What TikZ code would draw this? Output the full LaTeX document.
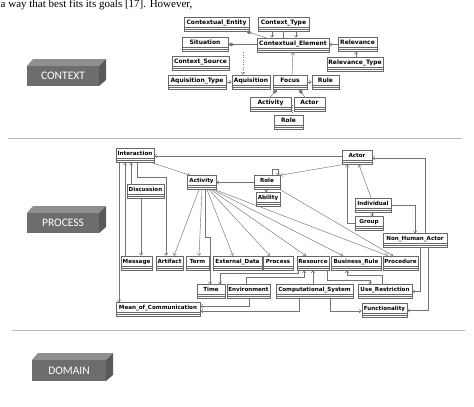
\documentclass[tikz,border=0pt]{standalone}
\usepackage{fontspec}
\setmainfont{Liberation Serif}
\setsansfont{DejaVu Sans}
\newfontfamily\blockfont{Carlito}
\usetikzlibrary{arrows.meta}
\definecolor{boxc}{HTML}{686868}
\definecolor{linec}{HTML}{747474}
\definecolor{blkfront}{HTML}{6C6D6F}
\definecolor{blktop}{HTML}{8E8F91}
\definecolor{blkside}{HTML}{58595B}
\newcommand{\myblock}[6]{%
  \fill[blktop] (#2,#3) -- (#2+6,#3-7) -- (#4+7,#3-7) -- (#4,#3) -- cycle;
  \fill[blkside] (#4,#3) -- (#4+7,#3-7) -- (#4+7,#5-6) -- (#4,#5) -- cycle;
  \node[blockface, minimum width=#4-#2, minimum height=#5-#3] (#1) at ({(#2+#4)/2},{(#3+#5)/2}) {#6};
}
\begin{document}
\begin{tikzpicture}[x=1pt,y=-1pt,
  cls/.style={draw=boxc, line width=0.45pt, fill=white,
    font=\sffamily\bfseries\fontsize{5.6}{6}\selectfont,
    inner xsep=0.5pt, inner ysep=0pt, text height=7.2pt, text depth=6.8pt,
    minimum height=14pt,
    path picture={\draw[boxc, line width=0.4pt]
      ([yshift=-10pt]path picture bounding box.north west) -- ([yshift=-10pt]path picture bounding box.north east)
      ([yshift=-12pt]path picture bounding box.north west) -- ([yshift=-12pt]path picture bounding box.north east);}},
  ctx/.style={font=\sffamily\bfseries\fontsize{6}{7}\selectfont},
  blockface/.style={fill=blkfront, inner sep=0pt, text=white,
    font=\blockfont\fontsize{11.5}{12}\selectfont},
  ln/.style={draw=linec, line width=0.45pt},
  arr/.style={ln, -{Straight Barb[length=2.2pt,width=3.4pt]}},
  dia/.style={ln, {Diamond[length=6pt,width=3.6pt]}-},
  dot/.style={ln, dotted}]
\fill[white] (0,0) rectangle (474,407);
\useasboundingbox (0,0) rectangle (474,407);

% text from the page above
\node[anchor=base west, inner sep=0pt, font=\fontsize{11}{12}\selectfont] (toptext) at (0.5,7.5) {a way that best fits its goals [17]. However,};

% dividers
\draw[gray!55, line width=0.8pt] (8,138) -- (462,138);
\draw[gray!55, line width=0.8pt] (12,330) -- (465,330);

% blocks
\myblock{bcontext}{27}{66}{99}{86}{CONTEXT}
\myblock{bprocess}{27}{213}{99}{233}{PROCESS}
\myblock{bdomain}{32}{360}{106}{381}{DOMAIN}

% ---------------- CONTEXT ----------------
\node[cls,ctx,minimum width=65] (centity) at (216.5,24) {Contextual\_Entity};
\node[cls,ctx,minimum width=51] (ctype) at (283.5,24) {Context\_Type};
\node[cls,ctx,minimum width=46] (situation) at (205,44.5) {Situation};
\node[cls,ctx,minimum width=72] (celem) at (293,45) {Contextual\_Element};
\node[cls,ctx,minimum width=39] (relevance) at (357.5,44.5) {Relevance};
\node[cls,ctx,minimum width=56] (reltype) at (355,64.5) {Relevance\_Type};
\node[cls,ctx,minimum width=57] (csource) at (200.5,63.5) {Context\_Source};
\node[cls,ctx,minimum width=58] (aqtype) at (197,82) {Aquisition\_Type};
\node[cls,ctx,minimum width=38] (aquisition) at (251,82) {Aquisition};
\node[cls,ctx,minimum width=34] (focus) at (290,82) {Focus};
\node[cls,ctx,minimum width=27] (rule) at (325.5,82) {Rule};
\node[cls,ctx,minimum width=41] (cactivity) at (270.5,104.5) {Activity};
\node[cls,ctx,minimum width=31] (cactor) at (309.5,104.5) {Actor};
\node[cls,ctx,minimum width=29] (crole) at (288.5,122) {Role};
\coordinate (assoc) at (292.5,105);

\draw[dia] (246,0 |- centity.south) -- (266,0 |- celem.north);
\draw[arr] (272,0 |- ctype.south) -- (272,0 |- celem.north);
\draw[ln] (283,0 |- ctype.south) -- (283,0 |- celem.north);
\draw[arr] (296,0 |- ctype.south) -- (296,0 |- celem.north);
\draw[dia] (situation.east) -- (situation.east -| celem.west);
\draw[dot,-{Straight Barb[length=2.2pt,width=3.4pt]}] (243,0 |- celem.south) -- (243,0 |- aquisition.north);
\draw[arr] (aqtype.east) -- (aquisition.west);
\draw[arr] (292,0 |- focus.north) -- (293,0 |- celem.south);
\draw[arr] (focus.east) -- (rule.west);
\draw[arr] (relevance.west) -- (relevance.west -| celem.east);
\draw[arr] (356,0 |- reltype.north) -- (356,0 |- relevance.south);
\draw[dia] (277,0 |- focus.south) -- (270,0 |- cactivity.north);
\draw[dia] (299,0 |- focus.south) -- (305,0 |- cactor.north);
\draw[dot] (assoc) -- (assoc |- crole.north);

% ---------------- PROCESS ----------------
\node[cls,minimum width=38] (interaction) at (135,155.5) {Interaction};
\node[cls,minimum width=29] (pactivity) at (201.5,182.5) {Activity};
\node[cls,minimum width=26] (prole) at (267,182.5) {Role};
\node[cls,minimum width=24] (ability) at (268,199.5) {Ability};
\node[cls,minimum width=37] (discussion) at (145.5,191) {Discussion};
\node[cls,minimum width=30] (actor) at (357,157.5) {Actor};
\node[cls,minimum width=36] (individual) at (373,205) {Individual};
\node[cls,minimum width=28] (group) at (369,223.5) {Group};
\node[cls,minimum width=64] (nonhuman) at (415,240.5) {Non\_Human\_Actor};
\node[cls,minimum width=31] (message) at (136.5,263) {Message};
\node[cls,minimum width=27] (artifact) at (169.5,263) {Artifact};
\node[cls,minimum width=23] (term) at (197.5,263) {Term};
\node[cls,minimum width=49] (extdata) at (237.5,263) {External\_Data};
\node[cls,minimum width=30] (process) at (278,263) {Process};
\node[cls,minimum width=32] (resource) at (313,263) {Resource};
\node[cls,minimum width=50] (busrule) at (356,263) {Business\_Rule};
\node[cls,minimum width=35] (procedure) at (400.5,263) {Procedure};
\node[cls,minimum width=28] (time) at (211,291.5) {Time};
\node[cls,minimum width=43] (environment) at (248.5,291.5) {Environment};
\node[cls,minimum width=77] (compsys) at (314.5,291.5) {Computational\_System};
\node[cls,minimum width=54] (userestr) at (385,291.5) {Use\_Restriction};
\node[cls,minimum width=45] (functionality) at (384.5,310.5) {Functionality};
\node[cls,minimum width=84] (meanofcomm) at (158,309.5) {Mean\_of\_Communication};

\draw[arr] (actor.west |- 0,156) -- (interaction.east |- 0,156);
\draw[arr] (152,0 |- interaction.south) -- (190,0 |- pactivity.north);
\draw[arr] (prole.west) -- (prole.west -| pactivity.east);
\draw[arr] (272,0 |- prole.north) -- (272,169) -- (278,169) -- (278,0 |- prole.north);
\draw[arr] (actor.south west) -- (prole.north east);
\draw[arr] (266,0 |- prole.south) -- (266,0 |- ability.north);
\draw[arr] (371,0 |- individual.north) -- (359,0 |- actor.south);
\draw[arr] (group.west) -- (347,0 |- group.west) -- (347,0 |- actor.south);
\draw[arr] (372,0 |- individual.south) -- (372,0 |- group.north);
\draw[arr] (individual.east) -| (nonhuman.north);
\draw[arr] (425,0 |- nonhuman.north) -- (425,158) -- (actor.east |- 0,158);
\draw[arr] (420,0 |- nonhuman.south) |- (userestr.east);
\draw[arr] (428,0 |- nonhuman.south) |- (functionality.east);

\draw[arr] (199,0 |- pactivity.south) -- (174,0 |- artifact.north);
\draw[arr] (202,0 |- pactivity.south) -- (199,0 |- term.north);
\draw[arr] (205,0 |- pactivity.south) -- (205,237) -- (210,237) -- (210,0 |- time.north);
\draw[arr] (207,0 |- pactivity.south) -- (233,0 |- extdata.north);
\draw[arr] (209,0 |- pactivity.south) -- (270,0 |- process.north);
\draw[arr] (211,0 |- pactivity.south) -- (306,0 |- resource.north);
\draw[arr] (213,0 |- pactivity.south) -- (343,0 |- busrule.north);
\draw[arr] (215,0 |- pactivity.south) -- (388,0 |- procedure.north);
\draw[arr] (prole.south east) -- (393,0 |- procedure.north);

\draw[arr] (119,0 |- interaction.south) -- (119,0 |- meanofcomm.north);
\draw[arr] (125,0 |- message.north) -- (125,0 |- interaction.south);
\draw[arr] (131,0 |- discussion.north) -- (131,0 |- interaction.south);
\draw[arr] (137,0 |- interaction.south) -- (137,177) -- (166,177) -- (166,0 |- artifact.north);
\draw[arr] (141,0 |- discussion.south) -- (141,0 |- message.north);

\draw[arr] (249,0 |- environment.south) -- (249,306) -- (meanofcomm.east |- 0,306);
\draw[arr] (299,0 |- compsys.south) -- (299,311) -- (meanofcomm.east |- 0,311);
\draw[arr] (298,0 |- resource.south) -- (298,273) -- (220,273) -- (220,0 |- time.north);
\draw[arr] (246,0 |- environment.north) -- (246,277) -- (304,277) -- (304,0 |- resource.south);
\draw[arr] (313,0 |- compsys.north) -- (313,0 |- resource.south);
\draw[arr] (327,0 |- resource.south) -- (327,280) -- (370,280) -- (370,0 |- userestr.north);
\draw[arr] (382,0 |- userestr.north) -- (382,275) -- (347,275) -- (347,0 |- busrule.south);
\draw[arr] (330,0 |- compsys.south) -- (330,311) -- (functionality.west |- 0,311);
\end{tikzpicture}
\end{document}
